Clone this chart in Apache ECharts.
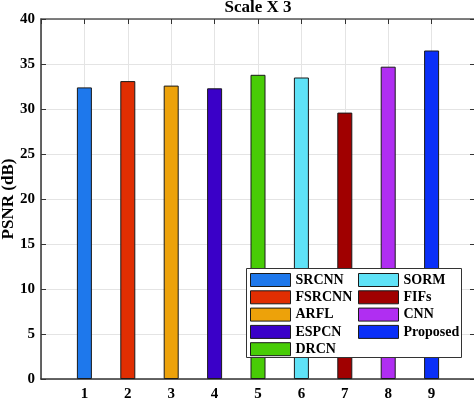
<!DOCTYPE html>
<html><head><meta charset="utf-8">
<script src="https://cdn.jsdelivr.net/npm/echarts@6/dist/echarts.min.js"></script>
<style>html,body{margin:0;padding:0;background:#fff}#c{width:474px;height:399px}</style>
</head><body><div id="c"></div>
<script>
const methods = ['SRCNN','FSRCNN','ARFL','ESPCN','DRCN','SORM','FIFs','CNN','Proposed'];
const positions = [1,2,3,4,5,6,7,8,9];
const psnr = [32.4, 33.1, 32.6, 32.3, 33.8, 33.5, 29.6, 34.7, 36.5];
const colors = ['#1e78ec','#e02e02','#eda20a','#3a00c8','#48cc06','#5fe2f7','#a00000','#b02ef2','#0a2ff8'];
const yTicks = [0,5,10,15,20,25,30,35,40];

const FF = 'Liberation Serif';
const chart = echarts.init(document.getElementById('c'));
const series = methods.map((m,i)=>({
  name: m, type:'bar', xAxisIndex:0, yAxisIndex:0,
  data: [[positions[i], psnr[i]]],
  barWidth: 15, barGap:'-100%',
  itemStyle:{color:colors[i], borderColor:'#1a1a1a', borderWidth:1},
  z: 2
}));
const legendBase = {
  orient:'vertical', itemWidth:40, itemHeight:13, itemGap:3.3, padding:0,
  icon:'rect', z:10,
  textStyle:{fontFamily:FF, fontWeight:'bold', fontSize:14, color:'#000', lineHeight:14},
  itemStyle:{borderColor:'#1a1a1a', borderWidth:1}
};
chart.setOption({
  animation:false,
  title:{text:'Scale X 3', left:258, textAlign:'center', top:-1, padding:0,
    textStyle:{fontFamily:FF, fontWeight:'bold', fontSize:17, color:'#000'}},
  grid:{left:41, top:19, width:434, height:360, containLabel:false, outerBoundsMode:'none'},
  legend:[
    Object.assign({}, legendBase, {left:250, top:273, data:methods.slice(0,5)}),
    Object.assign({}, legendBase, {left:358, top:273, data:methods.slice(5)})
  ],
  graphic:[{type:'rect', z:5, shape:{x:246.5, y:268.5, width:215, height:89},
    style:{fill:'#fff', stroke:'#333', lineWidth:1}}],
  xAxis:[
    {type:'value', min:0, max:10, interval:1, position:'bottom',
     axisLine:{onZero:false, lineStyle:{color:'#333', width:1.5}},
     axisTick:{show:false},
     splitLine:{show:true, lineStyle:{color:'#e4e4e4', width:1}},
     axisLabel:{margin:8, fontFamily:FF, fontWeight:'bold', fontSize:15, color:'#000',
       formatter:v=> positions.indexOf(v)>=0 ? String(v) : ''}},
    {type:'value', min:0, max:10, interval:1, position:'top',
     axisLine:{onZero:false, lineStyle:{color:'#555', width:1.5}},
     axisTick:{show:true, inside:true, length:5, lineStyle:{color:'#333'}},
     splitLine:{show:false}, axisLabel:{show:false}}
  ],
  yAxis:[
    {type:'value', min:0, max:40, interval:5, position:'left',
     name:'PSNR (dB)', nameLocation:'middle', nameGap:24, nameMoveOverlap:false,
     nameTextStyle:{fontFamily:FF, fontWeight:'bold', fontSize:17, color:'#000'},
     axisLine:{show:true, onZero:false, lineStyle:{color:'#333', width:1.5}},
     axisTick:{show:true, inside:true, length:5, lineStyle:{color:'#333'}},
     splitLine:{show:true, lineStyle:{color:'#e4e4e4', width:1}},
     axisLabel:{margin:6, fontFamily:FF, fontWeight:'bold', fontSize:15, color:'#000',
       formatter:v=> yTicks.indexOf(v)>=0 ? String(v) : ''}},
    {type:'value', min:0, max:40, interval:5, position:'right',
     axisLine:{show:true, onZero:false, lineStyle:{color:'#333', width:1.5}},
     axisTick:{show:true, inside:true, length:5, lineStyle:{color:'#333'}},
     splitLine:{show:false}, axisLabel:{show:false}}
  ],
  series: series
});
</script></body></html>
